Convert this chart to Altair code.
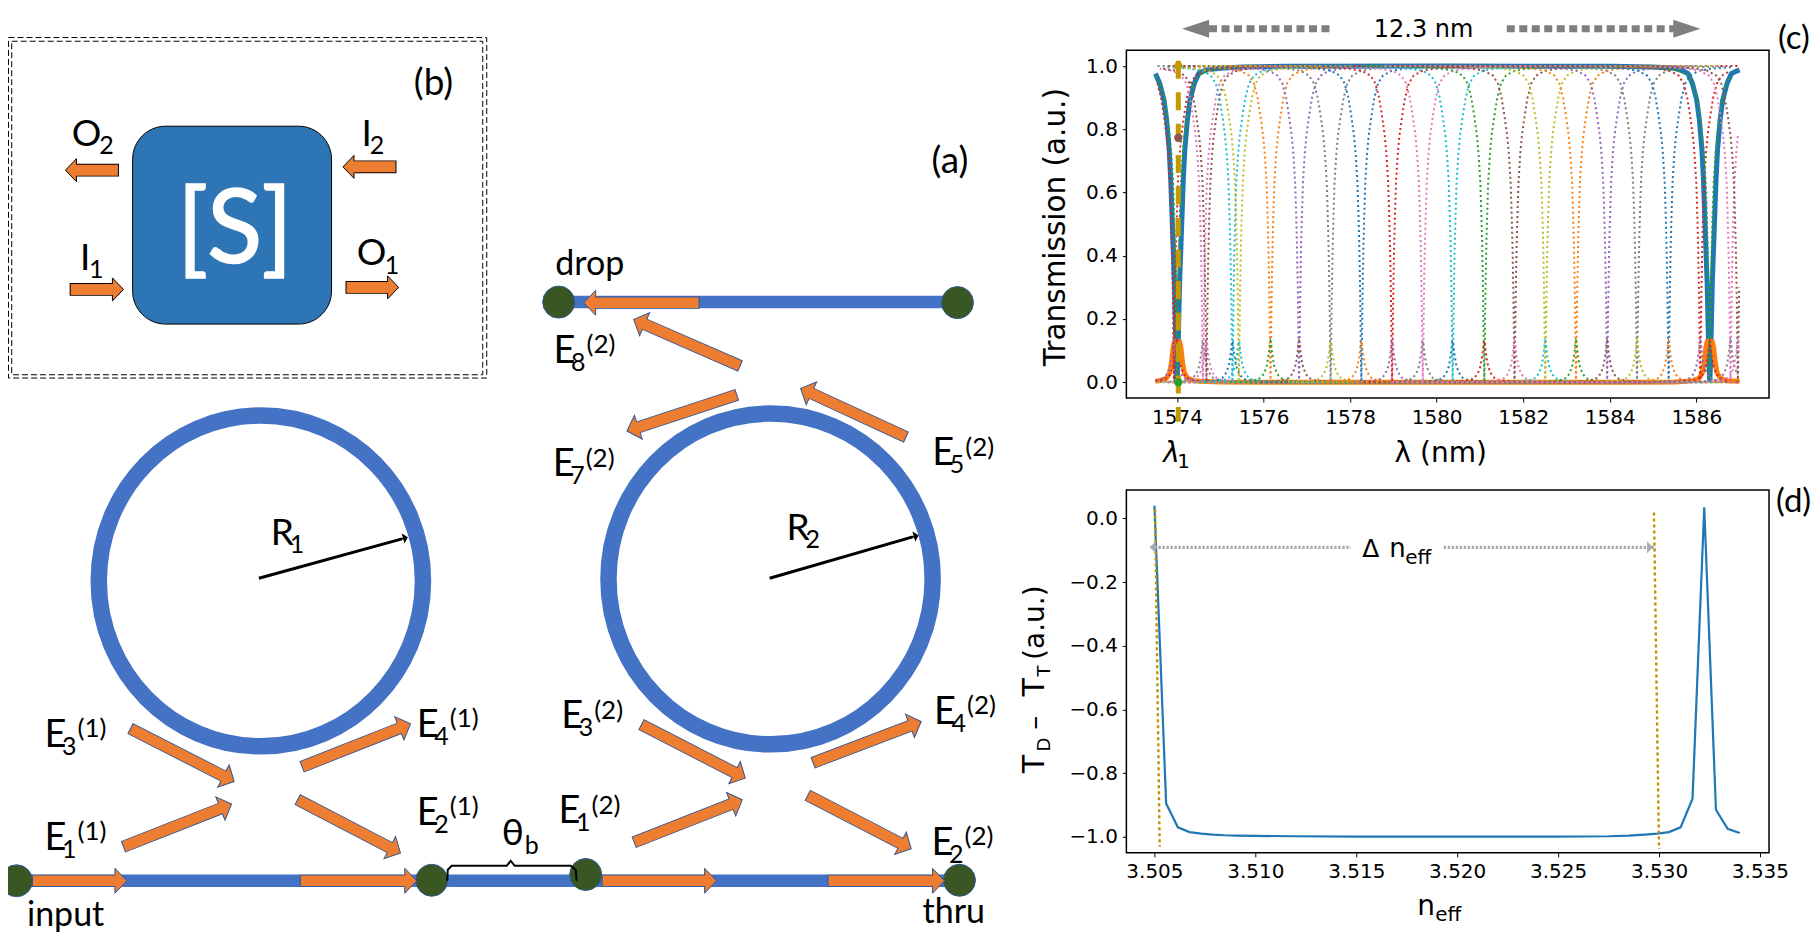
import numpy as np
import pandas as pd
import altair as alt

# ---------------- plot (c): values ----------------
TAB10 = ["#1f77b4", "#ff7f0e", "#2ca02c", "#d62728", "#9467bd",
         "#8c564b", "#e377c2", "#7f7f7f", "#bcbd22", "#17becf"]
# channel centre (nm), colour index of its through curve and of its drop curve
channel_center = [1573.93, 1574.0, 1574.6, 1574.68, 1575.28, 1575.43, 1576.16, 1576.82,
                  1577.55, 1578.26, 1578.97, 1579.68, 1580.37, 1581.1, 1581.8, 1582.51,
                  1583.22, 1583.94, 1584.63, 1585.36, 1586.09, 1586.31, 1586.79, 1586.96]
through_color = [3, 2, 6, 5, 9, 8, 1, 4, 7, 0, 3, 6, 9, 2, 5, 8, 1, 4, 7, 0, 3, 2, 6, 5]
drop_color = [4, 3, 7, 6, 0, 9, 2, 5, 8, 1, 4, 7, 0, 3, 6, 9, 2, 5, 8, 1, 4, 3, 7, 6]
# resonance profile read from the dips: distance from centre (nm) -> level
profile_off = [0, .01, .02, .03, .046, .065, .09, .13, .17, .23, .3, .385, .5, .7, 1, 1.5, 2, 4, 8, 14]
profile_thru = [0.0, .08, .21, .3, .42, .52, .63, .72, .78, .84, .90, .945, .97, .985, .992, .997, .999, 1, 1, 1]
profile_drop = [.13, .125, .115, .10, .085, .068, .05, .035, .024, .014, .009, .006, .004, .002, .001, 0, 0, 0, 0, 0]

main_lam = [1573.5, 1573.6, 1573.7, 1573.76, 1573.82, 1573.855, 1573.885, 1573.94, 1573.97, 1573.98,
            1574.0, 1574.02, 1574.03, 1574.06, 1574.115, 1574.145, 1574.18, 1574.24, 1574.3, 1574.4,
            1574.5, 1574.6, 1574.7, 1575.0, 1575.5, 1576.5, 1580.3,
            1584.0, 1585.0, 1585.5, 1585.61, 1585.71, 1585.81, 1585.91, 1586.01, 1586.07, 1586.13,
            1586.165, 1586.195, 1586.25, 1586.28, 1586.29, 1586.31, 1586.33, 1586.34, 1586.37,
            1586.425, 1586.455, 1586.49, 1586.55, 1586.61, 1586.71, 1586.81, 1586.91, 1587.0]
main_thru = [.976, .945, .892, .83, .734, .64, .524, .315, .136, .06,
             0.0, .06, .136, .315, .524, .64, .734, .83, .892, .945,
             .976, .983, .988, .993, .997, .999, 1.0,
             .999, .997, .993, .988, .983, .976, .945, .892, .83, .734,
             .64, .524, .315, .136, .06, 0.0, .06, .136, .315,
             .524, .64, .734, .83, .892, .945, .976, .983, .988]
main_drop_lam = [1573.5, 1573.6, 1573.75, 1573.83, 1573.87, 1573.91, 1573.94, 1574.0, 1574.06, 1574.09,
                 1574.13, 1574.17, 1574.25, 1574.4, 1574.55, 1575.0, 1576.0, 1580.0, 1584.5, 1585.5,
                 1585.76, 1585.91, 1586.06, 1586.14, 1586.18, 1586.22, 1586.25, 1586.31, 1586.37, 1586.4,
                 1586.44, 1586.48, 1586.56, 1586.71, 1587.0]
main_drop = [.003, .005, .012, .03, .06, .11, .128, .13, .128, .11,
             .06, .03, .012, .005, .003, .001, 0, 0, 0, .001,
             .003, .005, .012, .03, .06, .11, .128, .13, .128, .11,
             .06, .03, .012, .005, .003]
# ---------------- plot (d) ----------------
neff = [3.505, 3.50558, 3.50616, 3.50674, 3.50732, 3.5079, 3.50848, 3.50906, 3.51, 3.512, 3.515,
        3.52, 3.525, 3.5275, 3.5285, 3.5293, 3.5299, 3.53049, 3.53107, 3.53166, 3.53224, 3.53282,
        3.5334, 3.534]
td = [.04, -.895, -.97, -.985, -.99, -.993, -.995, -.996, -.997, -.998, -.999,
      -.999, -.999, -.998, -.996, -.993, -.99, -.985, -.97, -.88, .035, -.915, -.975, -.988]

# ---------------- schematic, in picture units ----------------
ring_x, ring_y = [261, 771], [581, 579]
guide_x, guide_x2, guide_y = [16, 559], [960, 958], [881, 302]
node_x = [16.5, 432, 586, 960, 559, 958]
node_y = [881, 880.5, 874.7, 880.5, 302, 302.5]
radius_tail_x, radius_tail_y = [260, 771], [578, 578]
radius_tip_x, radius_tip_y = [409, 920], [537, 535]
# (a): orange arrows
a_tail_x = [33, 301, 603, 829, 699, 131, 124, 302.7, 298.3, 642.3, 635, 814, 808.7, 740, 736.7, 906]
a_tail_y = [881, 881, 881, 881, 302.7, 729, 846.7, 766.7, 800, 725, 842.3, 762.7, 795.7, 365.7, 395, 436.7]
a_tip_x = [127, 417, 717, 945, 584, 234.3, 231.7, 410.7, 400.7, 745.7, 742.7, 921.7, 911.7, 634, 627.3, 801]
a_tip_y = [881, 881, 881, 881, 302.7, 781.7, 804.3, 724, 853.3, 778.3, 800, 721.7, 849, 319.3, 431, 388.3]
# (b): orange arrows
b_tail_x = [118, 395.7, 70.7, 346.7]
b_tail_y = [170, 166.7, 289.3, 287.3]
b_tip_x = [65, 342.7, 124, 399.3]
b_tip_y = [170, 166.7, 289.3, 287.3]
brace_x = [447.5, 448, 452, 507, 511, 515, 571, 576, 577]
brace_y = [881, 870, 866, 866, 861, 866, 866, 870, 881]
# E labels: subscript, superscript, left edge, baseline
e_sub = ["3", "1", "4", "2", "3", "1", "4", "2", "8", "7", "5"]
e_sup = ["(1)", "(1)", "(1)", "(1)", "(2)", "(2)", "(2)", "(2)", "(2)", "(2)", "(2)"]
e_x = [44.5, 44.5, 417, 417, 561.5, 558.8, 934.5, 932, 553.8, 553, 932.8]
e_y = [746.7, 850, 736.7, 825, 728.3, 823.3, 724, 855, 362.7, 476, 465]
big_text = ["(b)", "(a)", "O", "I", "I", "O", "R", "R", "θ"]
big_x = [414, 932, 71.7, 361.7, 80, 357, 271, 787, 502]
big_y = [95, 173, 146, 146, 270, 265, 545, 540, 845]
small_text = ["2", "2", "1", "1", "1", "2", "b"]
small_x = [99.3, 370, 89, 385, 290, 806, 525]
small_y = [154, 154, 278, 274, 553, 548, 854]
word_text = ["input", "thru", "drop"]
word_x = [27, 923, 555.5]
word_y = [926.7, 923, 275]

FONT = "Lato"
BLUE = "#4472C4"
EDGE = "#2F5597"
ORANGE = "#ED7D31"
GOLD = "#BF9000"
HEAD_A = "M0,-0.48 L1,0.48 L-1,0.48 Z"
HEAD_LONG = "M0,-1 L0.67,1 L-0.67,1 Z"
RING = "M-0.98,0 A0.98,1 0 1,1 0.98,0 A0.98,1 0 1,1 -0.98,0 Z"

X = alt.X("x:Q", scale=alt.Scale(domain=[8, 1127], nice=False, zero=False), axis=None)
Y = alt.Y("y:Q", scale=alt.Scale(domain=[938, 8], nice=False, zero=False), axis=None)


def rules(x, x2, y, y2, **kw):
    d = pd.DataFrame({"x": x, "x2": x2, "y": y, "y2": y2})
    return alt.Chart(d).mark_rule(**kw).encode(X, Y, x2="x2:Q", y2="y2:Q")


def arrow_layers(tx, ty, px, py, shaft, head_w, head_l, edge, fill=ORANGE, head_path=HEAD_A):
    tx, ty, px, py = map(lambda v: np.array(v, dtype=float), (tx, ty, px, py))
    dx, dy = px - tx, py - ty
    n = np.hypot(dx, dy)
    ux, uy = dx / n, dy / n
    bx, by = px - ux * head_l, py - uy * head_l
    mx, my = px - ux * head_l / 2, py - uy * head_l / 2
    ang = np.degrees(np.arctan2(dx, -dy)) % 360
    heads = pd.DataFrame({"x": mx, "y": my, "angle": ang})
    return [
        rules(tx - ux, bx, ty - uy, by, stroke=edge, strokeWidth=shaft + 1.6),
        alt.Chart(heads).mark_point(shape=head_path, filled=True, fill=fill, stroke=edge,
                                    strokeWidth=1, size=head_w ** 2, opacity=1).encode(
            X, Y, angle=alt.Angle("angle:Q", scale=None)),
        rules(tx, bx + ux * 1.5, ty, by + uy * 1.5, stroke=fill, strokeWidth=shaft),
    ]


def text_layer(texts, xs, ys, size, color="black", font=FONT, **kw):
    d = pd.DataFrame({"t": texts, "x": xs, "y": ys})
    return alt.Chart(d).mark_text(align="left", baseline="alphabetic", font=font, fontSize=size,
                                  color=color, **kw).encode(X, Y, text="t:N")


def box(x1, x2, y1, y2):
    d = pd.DataFrame({"x": [x1], "x2": [x2], "y": [y1], "y2": [y2]})
    return alt.Chart(d).mark_rect(fill=None, stroke="black", strokeWidth=1, strokeDash=[6, 3]).encode(
        X, Y, x2="x2:Q", y2="y2:Q")


rounded = alt.Chart(pd.DataFrame({"x": [132.7], "x2": [331.7], "y": [126], "y2": [324]})).mark_rect(
    fill="#2E75B6", stroke="black", strokeWidth=1, cornerRadius=33).encode(X, Y, x2="x2:Q", y2="y2:Q")

rings = alt.Chart(pd.DataFrame({"x": ring_x, "y": ring_y})).mark_point(
    shape=RING, filled=False, stroke=BLUE, strokeWidth=16.5, size=331 ** 2, opacity=1).encode(X, Y)
nodes = alt.Chart(pd.DataFrame({"x": node_x, "y": node_y})).mark_point(
    shape="circle", filled=True, fill="#385723", stroke=EDGE, strokeWidth=1, size=32 ** 2,
    opacity=1, clip=True).encode(X, Y)
guides = rules(guide_x, guide_x2, guide_y, guide_y, stroke=BLUE, strokeWidth=12.5)
brace = alt.Chart(pd.DataFrame({"x": brace_x, "y": brace_y, "k": range(len(brace_x))})).mark_line(
    color="black", strokeWidth=2).encode(X, Y, order="k:Q")
radius = arrow_layers(radius_tail_x, radius_tail_y, radius_tip_x, radius_tip_y, 1.4, 8, 7, "black", fill="black")

e_main = text_layer(["E"] * len(e_x), e_x, e_y, 38)
e_subs = text_layer(e_sub, [v + 17.5 for v in e_x], [v + 8 for v in e_y], 25)
e_sups = text_layer(e_sup, [v + 33 for v in e_x], [v - 9.5 for v in e_y], 26)

left = alt.layer(
    box(8.5, 487, 37.3, 378), box(11.7, 483, 41, 374.7),
    guides, rings, *radius, nodes, brace,
    *arrow_layers(a_tail_x, a_tail_y, a_tip_x, a_tip_y, 10.5, 25, 12, EDGE),
    *arrow_layers(b_tail_x, b_tail_y, b_tip_x, b_tip_y, 11, 23, 12, "black"),
    rounded,
    text_layer(["[S]"], [177], [263], 102, color="white", stroke="white", strokeWidth=1.5),
    text_layer(big_text, big_x, big_y, 37),
    text_layer(small_text, small_x, small_y, 25),
    text_layer(word_text, word_x, word_y, 34),
    e_main, e_subs, e_sups,
).properties(width=1119, height=930, view=alt.ViewBackground(stroke=None))

spacer = alt.Chart(pd.DataFrame({"t": [""]})).mark_text().encode(text="t:N").properties(
    width=643, height=42, view=alt.ViewBackground(stroke=None))

# ---------------- panel (c) ----------------
rows = []
off = np.array(profile_off)
full_off = np.concatenate([-off[::-1], off[1:]])
full_thru = np.concatenate([np.array(profile_thru)[::-1], np.array(profile_thru)[1:]])
full_drop = np.concatenate([np.array(profile_drop)[::-1], np.array(profile_drop)[1:]])
for i, c in enumerate(channel_center):
    for kind, lev, col in (("t", full_thru, through_color[i]), ("d", full_drop, drop_color[i])):
        lam = c + full_off
        keep = (lam >= 1573.5) & (lam <= 1587.0)
        rows.append(pd.DataFrame({"lam": lam[keep], "T": lev[keep],
                                  "curve": f"{i:02d}{kind}", "col": f"C{col}"}))
dotted_df = pd.concat(rows, ignore_index=True)

XC = alt.X("lam:Q", scale=alt.Scale(domain=[1572.83, 1587.68], nice=False, zero=False),
           axis=alt.Axis(values=list(range(1574, 1587, 2)), format="d", grid=False, domain=False,
                         tickSize=4, tickColor="black", labelPadding=5, labelFontSize=20,
                         labelFont="DejaVu Sans", labelColor="black", title="λ (nm)", titleFont="DejaVu Sans",
                         titleFontSize=28, titleFontWeight="normal", titleColor="black", titleX=314,
                         titleY=63.7, titleBaseline="alphabetic", labelFlush=False))
YC = alt.Y("T:Q", scale=alt.Scale(domain=[-0.05, 1.05], nice=False, zero=False),
           axis=alt.Axis(values=[0, .2, .4, .6, .8, 1.0], format=".1f", grid=False, domain=False,
                         tickSize=4, tickColor="black", labelPadding=5, labelFontSize=20,
                         labelFont="DejaVu Sans", labelColor="black", title="Transmission (a.u.)",
                         titleFont="DejaVu Sans", titleFontSize=29.5, titleFontWeight="normal",
                         titleColor="black", titleAngle=270, titleX=-62, titleY=176.5,
                         titleBaseline="alphabetic", titleAlign="center"))
dotted = alt.Chart(dotted_df).mark_line(strokeWidth=2, strokeDash=[2, 3]).encode(
    XC, YC, detail="curve:N",
    color=alt.Color("col:N", scale=alt.Scale(domain=[f"C{i}" for i in range(10)], range=TAB10), legend=None))
main_b = alt.Chart(pd.DataFrame({"lam": main_lam, "T": main_thru})).mark_line(
    color="#1f77b4", strokeWidth=5, strokeCap="butt").encode(XC, YC)
main_o = alt.Chart(pd.DataFrame({"lam": main_drop_lam, "T": main_drop})).mark_line(
    color="#ff7f0e", strokeWidth=5).encode(XC, YC)
mark_lam, mark_T, mark_c = [1574.03, 1574.03, 1574.03], [1.0, .773, 0.0], ["#C49A00", "#8c564b", "#2ca02c"]
blobs = alt.Chart(pd.DataFrame({"lam": mark_lam, "T": mark_T, "c": mark_c})).mark_point(
    filled=True, size=70, opacity=1).encode(XC, YC, color=alt.Color("c:N", scale=None))
gold = alt.Chart(pd.DataFrame({"lam": [1574.03], "T": [1.017], "T2": [-0.125]})).mark_rule(
    color="#C49A00", strokeWidth=5, strokeDash=[18, 13.5]).encode(XC, YC, y2="T2:Q")
span_x = [1574.74, 1581.62]
span_x2 = [1577.56, 1585.55]
span_y = [1.118, 1.118]
span = alt.Chart(pd.DataFrame({"lam": span_x, "lam2": span_x2, "T": span_y})).mark_rule(
    color="#7F7F7F", strokeWidth=7, strokeDash=[8, 4.5]).encode(XC, YC, x2="lam2:Q")
span_heads = alt.Chart(pd.DataFrame({"lam": [1574.43, 1585.78], "T": [1.118, 1.118], "a": [270, 90]})).mark_point(
    shape=HEAD_LONG, filled=True, fill="#7F7F7F", stroke=None, size=27 ** 2, opacity=1).encode(
    XC, YC, angle=alt.Angle("a:Q", scale=None))


def note(text, px, py, size, font="DejaVu Sans", angle=0, style=None):
    kw = {}
    if style:
        kw["fontStyle"] = style
    return alt.Chart(pd.DataFrame({"t": [text]})).mark_text(
        align="left", baseline="alphabetic", font=font, fontSize=size, color="black",
        angle=angle, **kw).encode(x=alt.value(px), y=alt.value(py), text="t:N")


panel_c = alt.layer(
    main_b, main_o, dotted, gold, blobs, span, span_heads,
    note("12.3 nm", 247.6, -13.3, 24),
    note("(c)", 652, -1, 33, font=FONT),
    note("λ", 37, 411.7, 28, style="italic"),
    note("1", 51, 418, 20),
).properties(width=643, height=348, view=alt.ViewBackground(stroke="black", strokeWidth=1.5))

# ---------------- panel (d) ----------------
XD = alt.X("n:Q", scale=alt.Scale(domain=[3.50361, 3.53545], nice=False, zero=False),
           axis=alt.Axis(values=[3.505, 3.51, 3.515, 3.52, 3.525, 3.53, 3.535], format=".3f", grid=False,
                         domain=False, tickSize=4, tickColor="black", labelPadding=5, labelFontSize=20,
                         labelFont="DejaVu Sans", labelColor="black", title=None, labelFlush=False))
YD = alt.Y("v:Q", scale=alt.Scale(domain=[-1.05, 0.089], nice=False, zero=False),
           axis=alt.Axis(values=[-1, -.8, -.6, -.4, -.2, 0], format=".1f", grid=False, domain=False,
                         tickSize=4, tickColor="black", labelPadding=5, labelFontSize=20,
                         labelFont="DejaVu Sans", labelColor="black", title=None))
trace = alt.Chart(pd.DataFrame({"n": neff, "v": td})).mark_line(color="#1f77b4", strokeWidth=2.2).encode(XD, YD)
gold_x, gold_x2 = [3.50503, 3.52975], [3.50526, 3.53]
gold_y, gold_y2 = [0.028, 0.018], [-1.031, -1.038]
gold_d = alt.Chart(pd.DataFrame({"n": gold_x, "n2": gold_x2, "v": gold_y, "v2": gold_y2})).mark_rule(
    color=GOLD, strokeWidth=2.4, strokeDash=[3, 3]).encode(XD, YD, x2="n2:Q", y2="v2:Q")
delta = alt.Chart(pd.DataFrame({"n": [3.5048, 3.51933], "n2": [3.51473, 3.52984], "v": [-.091, -.091]})).mark_rule(
    color="#AAAAAA", strokeWidth=3.2, strokeDash=[2.4, 1.6]).encode(XD, YD, x2="n2:Q")
delta_heads = alt.Chart(pd.DataFrame({"n": [3.50492, 3.52955], "v": [-.091, -.091], "a": [270, 90]})).mark_point(
    shape=HEAD_A, filled=True, fill="#AAAAAA", stroke=None, size=12 ** 2, opacity=1).encode(
    XD, YD, angle=alt.Angle("a:Q", scale=None))

panel_d = alt.layer(
    trace, gold_d, delta, delta_heads,
    note("Δ", 236, 67, 25),
    note("n", 263, 67, 26),
    note("eff", 279, 74, 20),
    note("(d)", 650, 21.7, 33, font=FONT),
    note("n", 291, 425, 28),
    note("eff", 309, 431, 20),
    note("T", -82, 283.3, 30, angle=270),
    note("D", -76, 261.7, 18, angle=270),
    note("–", -82, 240, 28, angle=270),
    note("T", -82, 206.7, 30, angle=270),
    note("T", -76, 186.7, 18, angle=270),
    note("(a.u.)", -82, 170, 28, angle=270),
).properties(width=643, height=363, view=alt.ViewBackground(stroke="black", strokeWidth=1.5))

right = alt.vconcat(spacer, alt.vconcat(panel_c, panel_d, spacing=92, bounds="flush"), spacing=0, bounds="flush")
chart = alt.hconcat(left, right, spacing=0, bounds="flush").properties(padding=0).configure(
    background="white")

chart.save("out.html", embed_options={"renderer": "svg", "actions": False})
